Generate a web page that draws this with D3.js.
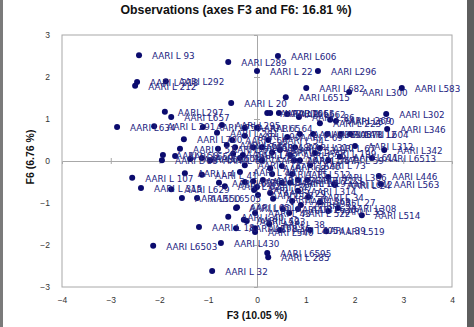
<!DOCTYPE html>
<html><head><meta charset="utf-8">
<script src="https://cdn.jsdelivr.net/npm/d3@7"></script>
<style>body{margin:0;background:#fff;}svg{display:block;}</style>
</head><body>
<script>
const labels = ["AARI L 93","AARI L289","AARI L606","AARI L 22","AARI L296","AARI L 218","AARI L 212","AARI L292","AARI L682","AARI L300","AARI L583","AARI L6515","AARI L 20","AARI L297","AARI L657","AARI L634","AARI L 291","AARI L758","AARI L295","AARI L 281","AARI L700","AARI L 16","AARI L706","AARI L 55","AARI L662","AARI L 86","AARI L 269","AARI L 223","AARI L670","AARI L302","AARI L346","AARI L604","AARI L 69","AARI L 37","AARI L305","AARI L 78","AARI L 12","AARI L 54","AARI L 90","AARI L310","AARI L312","AARI L342","AARI L6513","AARI L 199","AARI L611","AARI L 176","AARI L 51","AARI L 61","AARI L 63","AARI L659","AARI L 52","AARI L 58","AARI L 88","AARI L650","AARI L654","AARI L601","AARI L 60","AARI L 77","AARI L640","AARI L 57","AARI L 59","AARI L 26","AARI L 71","AARI L446","AARI L563","AARI L642","AARI L386","AARI L512","AARI L514","AARI L308","AARI L630","AARI L519","AARI L405","AARI L 27","AARI L363","AARI L314","AARI L 522","AARI L6514","AARI L593","AARI L 198","AARI L540","AARI L6595","AARI L 285","AARI L430","AARI L 32","AARI L6503","AARI L 18","AARI L 107","AARI L 315","AARI L629","AARI L550","AARI L6505","AARI L 4","AARI L 41","AARI L627","AARI L 62","AARI L 44","AARI L 45","AARI L 47","AARI L 50","AARI L 13","AARI L 14","AARI L 15","AARI L 17","AARI L 19","AARI L 21","AARI L 23","AARI L 24","AARI L 25","AARI L 28","AARI L 29","AARI L 30","AARI L 31","AARI L 33","AARI L 34","AARI L 35","AARI L 36","AARI L 38","AARI L 39","AARI L 40","AARI L 42","AARI L 43","AARI L 48","AARI L 49","AARI L 53","AARI L 56","AARI L 64","AARI L 65","AARI L 66","AARI L 67","AARI L 68","AARI L 72","AARI L 73","AARI L 74"];
const f3 = [-2.42,-0.59,0.43,0.00,1.25,-2.46,-2.50,-1.87,1.01,1.89,2.97,0.59,-0.53,-1.89,-1.76,-2.87,-2.11,-1.11,-0.72,-0.82,-1.50,0.21,0.27,0.45,0.62,0.86,1.50,1.29,1.62,2.65,2.67,1.91,0.62,0.88,1.15,1.44,1.72,0.23,-0.25,0.78,2.01,2.61,2.36,1.19,1.70,-0.49,-1.58,-0.80,-0.62,-0.45,-0.29,-1.93,-1.95,-1.68,-1.37,-1.13,-0.96,-0.35,0.51,0.88,1.46,0.10,0.31,2.50,2.54,1.58,1.46,0.72,2.15,1.66,0.84,1.42,0.47,1.29,0.72,0.84,0.66,-0.41,-0.21,-0.43,-0.04,0.21,0.23,-0.74,-0.92,-2.13,-1.19,-2.56,-2.38,-1.76,-1.54,-1.23,-1.48,-1.13,-0.78,-0.66,-0.35,-0.25,0.00,-0.43,-0.08,0.12,0.31,0.51,0.68,0.84,1.03,1.60,-0.06,0.02,0.27,0.33,0.53,0.90,1.05,1.46,-0.04,0.25,1.09,-0.59,-0.27,-0.04,-0.08,0.10,0.47,0.68,0.00,-0.25,-0.51,1.29,0.27,-0.25,1.09,0.76];
const f6 = [2.52,2.36,2.50,2.14,2.14,1.88,1.79,1.90,1.74,1.64,1.74,1.52,1.38,1.17,1.05,0.81,0.83,0.81,0.86,0.67,0.52,1.14,1.14,1.14,1.12,1.05,0.98,0.90,0.95,1.12,0.76,0.64,0.57,0.64,0.64,0.64,0.64,0.50,0.60,0.33,0.36,0.26,0.07,0.19,0.10,0.17,0.29,0.29,0.38,0.33,0.14,0.14,0.02,0.12,0.05,0.07,0.02,0.07,-0.12,0.02,0.02,0.02,0.21,-0.36,-0.55,-0.55,-0.38,-0.31,-1.29,-1.12,-1.14,-1.67,-1.64,-0.98,-0.95,-0.71,-1.24,-1.10,-1.43,-1.60,-1.69,-2.19,-2.29,-1.95,-2.62,-2.02,-1.57,-0.40,-0.64,-0.67,-0.88,-0.88,-0.29,-0.33,-0.52,-0.60,-0.26,-0.50,-0.62,-1.12,-0.48,-0.45,-0.31,-0.52,-0.52,-0.45,-0.45,-0.57,-0.69,-0.81,-0.76,-0.90,-1.14,-1.05,-0.86,-1.19,-1.60,-1.50,-1.64,-1.33,-1.40,-1.24,0.33,0.33,0.26,0.14,0.79,0.79,0.50,0.31,-0.17,-0.10,-0.10,0.02];
const xTicks = [-4,-3,-2,-1,0,1,2,3,4];
const yTicks = [-3,-2,-1,0,1,2,3];
const title = "Observations (axes F3 and F6: 16.81 %)";
const xTitle = "F3 (10.05 %)";
const yTitle = "F6 (6.76 %)";

const W = 474, H = 327;
const svg = d3.select("body").append("svg").attr("width", W).attr("height", H);
svg.append("rect").attr("width", W).attr("height", H).attr("fill", "#fff");
// outer frame
svg.append("rect").attr("x", 0).attr("y", 0).attr("width", 3).attr("height", H).attr("fill", "#7a7a7a");
svg.append("rect").attr("x", 467).attr("y", 0).attr("width", 7).attr("height", H).attr("fill", "#5e5e5e");

const x = d3.scaleLinear().domain([-4, 4]).range([62, 452]);
const y = d3.scaleLinear().domain([-3, 3]).range([287, 35]);

svg.append("text").attr("x", 236).attr("y", 14).attr("text-anchor", "middle")
  .attr("font-family", "Liberation Sans, Arial, sans-serif").attr("font-weight", "bold")
  .attr("font-size", 12.3).attr("fill", "#111").text(title);

// plot border
svg.append("rect").attr("x", x(-4)).attr("y", y(3)).attr("width", x(4) - x(-4)).attr("height", y(-3) - y(3))
  .attr("fill", "none").attr("stroke", "#a8a8a8").attr("stroke-width", 1);

// zero axes
const zx = svg.append("g").attr("transform", `translate(0,${y(0)})`)
  .call(d3.axisBottom(x).tickValues(xTicks.filter(v => v > -4 && v < 4)).tickSize(3).tickFormat(""));
zx.selectAll("line").attr("stroke", "#a8a8a8").attr("y1", -3);
zx.select(".domain").attr("stroke", "#a8a8a8");
const zy = svg.append("g").attr("transform", `translate(${x(0)},0)`)
  .call(d3.axisLeft(y).tickValues(yTicks.filter(v => v > -3 && v < 3)).tickSize(3).tickFormat(""));
zy.selectAll("line").attr("stroke", "#a8a8a8").attr("x1", 3);
zy.select(".domain").attr("stroke", "#a8a8a8");

// tick labels outside
const gx = svg.append("g").attr("transform", `translate(0,${y(-3)})`)
  .call(d3.axisBottom(x).tickValues(xTicks).tickSize(0).tickPadding(10).tickFormat(d3.format("d")));
gx.select(".domain").remove();
gx.selectAll("text").attr("font-family", "Liberation Sans, Arial, sans-serif").attr("font-size", 8.5).attr("fill", "#333");
const gy = svg.append("g").attr("transform", `translate(${x(-4)},0)`)
  .call(d3.axisLeft(y).tickValues(yTicks).tickSize(0).tickPadding(12).tickFormat(d3.format("d")));
gy.select(".domain").remove();
gy.selectAll("text").attr("font-family", "Liberation Sans, Arial, sans-serif").attr("font-size", 8.5).attr("fill", "#333");

svg.append("text").attr("x", x(0)).attr("y", 319).attr("text-anchor", "middle")
  .attr("font-family", "Liberation Sans, Arial, sans-serif").attr("font-weight", "bold")
  .attr("font-size", 10.5).attr("fill", "#111").text(xTitle);
svg.append("text").attr("transform", `translate(34,${y(0) - 4}) rotate(-90)`).attr("text-anchor", "middle")
  .attr("font-family", "Liberation Sans, Arial, sans-serif").attr("font-weight", "bold")
  .attr("font-size", 10.5).attr("fill", "#111").text(yTitle);

const data = labels.map((l, i) => ({l, a: f3[i], b: f6[i]}));
const pts = svg.append("g");
pts.selectAll("circle").data(data).join("circle")
  .attr("cx", d => x(d.a)).attr("cy", d => y(d.b)).attr("r", 3).attr("fill", "#0b0b6e");
pts.selectAll("text").data(data).join("text")
  .attr("x", d => x(d.a) + 13).attr("y", d => y(d.b) + 4)
  .attr("font-family", "DejaVu Sans, sans-serif").attr("font-size", 8.8).attr("fill", "#23237f")
  .text(d => d.l);
</script>
</body></html>
